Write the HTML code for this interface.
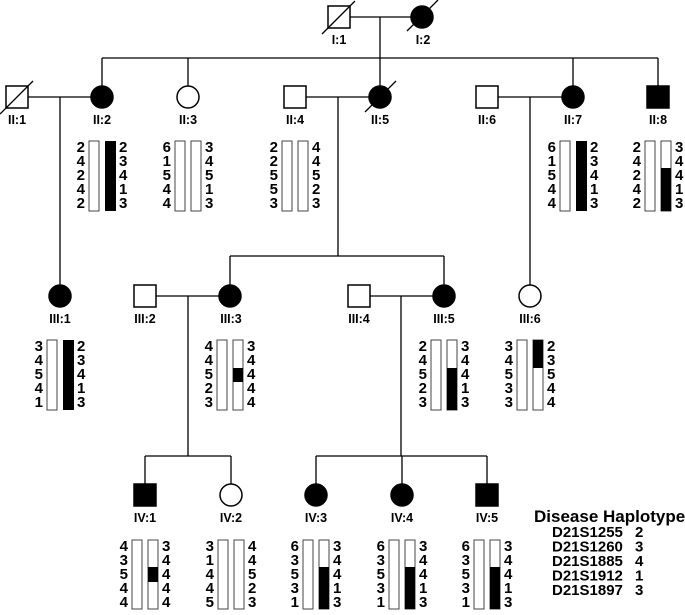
<!DOCTYPE html>
<html><head><meta charset="utf-8"><style>
html,body{margin:0;padding:0;background:#fff;}
svg{display:block;}
text{font-family:"Liberation Sans",Arial,sans-serif;font-weight:bold;fill:#000;}
.n{font-size:15px;}
.l{font-size:12.5px;}
.ln{stroke:#000;stroke-width:1.3;fill:none;}
.sym{stroke:#000;stroke-width:1.5;}
.bar{fill:#fff;stroke:#444;stroke-width:1;}
.blk{fill:#000;}
</style></head><body>
<svg width="685" height="615" viewBox="0 0 685 615" xmlns="http://www.w3.org/2000/svg">
<g class="ln">
<line x1="350" y1="17" x2="411" y2="17"/>
<line x1="380" y1="17" x2="380" y2="58"/>
<line x1="102" y1="58" x2="658" y2="58"/>
<line x1="102" y1="58" x2="102" y2="86"/>
<line x1="188" y1="58" x2="188" y2="86"/>
<line x1="380" y1="58" x2="380" y2="86"/>
<line x1="573" y1="58" x2="573" y2="86"/>
<line x1="658" y1="58" x2="658" y2="86"/>
<line x1="28" y1="97" x2="91" y2="97"/>
<line x1="60" y1="97" x2="60" y2="285"/>
<line x1="306" y1="97" x2="369" y2="97"/>
<line x1="338" y1="97" x2="338" y2="256"/>
<line x1="230" y1="256" x2="444" y2="256"/>
<line x1="230" y1="256" x2="230" y2="285"/>
<line x1="444" y1="256" x2="444" y2="285"/>
<line x1="498" y1="97" x2="562" y2="97"/>
<line x1="530" y1="97" x2="530" y2="285"/>
<line x1="156" y1="296" x2="219" y2="296"/>
<line x1="188" y1="296" x2="188" y2="456"/>
<line x1="145" y1="456" x2="231" y2="456"/>
<line x1="145" y1="456" x2="145" y2="484"/>
<line x1="231" y1="456" x2="231" y2="484"/>
<line x1="370" y1="296" x2="433" y2="296"/>
<line x1="401" y1="296" x2="401" y2="456"/>
<line x1="316" y1="456" x2="487" y2="456"/>
<line x1="316" y1="456" x2="316" y2="484"/>
<line x1="402" y1="456" x2="402" y2="484"/>
<line x1="487" y1="456" x2="487" y2="484"/>
</g>
<g class="sym">
<rect x="328" y="6" width="22" height="22" fill="#fff"/>
<circle cx="422" cy="17" r="11" fill="#000"/>
<rect x="6" y="86" width="22" height="22" fill="#fff"/>
<circle cx="102" cy="97" r="11" fill="#000"/>
<circle cx="188" cy="97" r="11" fill="#fff"/>
<rect x="284" y="86" width="22" height="22" fill="#fff"/>
<circle cx="380" cy="97" r="11" fill="#000"/>
<rect x="476" y="86" width="22" height="22" fill="#fff"/>
<circle cx="573" cy="97" r="11" fill="#000"/>
<rect x="647" y="86" width="22" height="22" fill="#000"/>
<circle cx="60" cy="296" r="11" fill="#000"/>
<rect x="134" y="285" width="22" height="22" fill="#fff"/>
<circle cx="230" cy="296" r="11" fill="#000"/>
<rect x="348" y="285" width="22" height="22" fill="#fff"/>
<circle cx="444" cy="296" r="11" fill="#000"/>
<circle cx="530" cy="296" r="11" fill="#fff"/>
<rect x="134" y="484" width="22" height="22" fill="#000"/>
<circle cx="231" cy="495" r="11" fill="#fff"/>
<circle cx="316" cy="495" r="11" fill="#000"/>
<circle cx="402" cy="495" r="11" fill="#000"/>
<rect x="476" y="484" width="22" height="22" fill="#000"/>
</g>
<g class="ln">
<line x1="322" y1="34" x2="355" y2="1"/>
<line x1="407" y1="31" x2="438" y2="0"/>
<line x1="0" y1="114" x2="33" y2="81"/>
<line x1="365" y1="112" x2="396" y2="81"/>
</g>
<g class="l" text-anchor="middle">
<text x="339" y="44">I:1</text>
<text x="423" y="44">I:2</text>
<text x="17" y="124">II:1</text>
<text x="102" y="124">II:2</text>
<text x="188" y="124">II:3</text>
<text x="295" y="124">II:4</text>
<text x="380" y="124">II:5</text>
<text x="487" y="124">II:6</text>
<text x="573" y="124">II:7</text>
<text x="658" y="124">II:8</text>
<text x="60" y="323">III:1</text>
<text x="145" y="323">III:2</text>
<text x="231" y="323">III:3</text>
<text x="359" y="323">III:4</text>
<text x="444" y="323">III:5</text>
<text x="530" y="323">III:6</text>
<text x="145" y="522">IV:1</text>
<text x="231" y="522">IV:2</text>
<text x="316" y="522">IV:3</text>
<text x="402" y="522">IV:4</text>
<text x="487" y="522">IV:5</text>
</g>
<g>
<rect class="bar" x="89" y="141" width="10" height="70"/><rect class="blk" x="105" y="141" width="11" height="70"/>
<rect class="bar" x="175" y="141" width="10" height="70"/><rect class="bar" x="191" y="141" width="10" height="70"/>
<rect class="bar" x="282" y="141" width="10" height="70"/><rect class="bar" x="298" y="141" width="10" height="70"/>
<rect class="bar" x="560" y="141" width="10" height="70"/><rect class="blk" x="576" y="141" width="11" height="70"/>
<rect class="bar" x="645" y="141" width="10" height="70"/><rect class="bar" x="661" y="141" width="10" height="70"/><rect class="blk" x="661" y="168" width="10" height="43"/>

<rect class="bar" x="47" y="340" width="10" height="70"/><rect class="blk" x="63" y="340" width="11" height="70"/>
<rect class="bar" x="217" y="340" width="10" height="70"/><rect class="bar" x="233" y="340" width="10" height="70"/><rect class="blk" x="233" y="368" width="10" height="14"/>
<rect class="bar" x="431" y="340" width="10" height="70"/><rect class="bar" x="447" y="340" width="10" height="70"/><rect class="blk" x="447" y="368" width="10" height="42"/>
<rect class="bar" x="517" y="340" width="10" height="70"/><rect class="bar" x="533" y="340" width="10" height="70"/><rect class="blk" x="533" y="340" width="10" height="28"/>

<rect class="bar" x="132" y="540" width="10" height="69"/><rect class="bar" x="148" y="540" width="10" height="69"/><rect class="blk" x="148" y="567" width="10" height="15"/>
<rect class="bar" x="218" y="540" width="10" height="69"/><rect class="bar" x="234" y="540" width="10" height="69"/>
<rect class="bar" x="303" y="540" width="10" height="69"/><rect class="bar" x="319" y="540" width="10" height="69"/><rect class="blk" x="319" y="567" width="10" height="42"/>
<rect class="bar" x="389" y="540" width="10" height="69"/><rect class="bar" x="405" y="540" width="10" height="69"/><rect class="blk" x="405" y="567" width="10" height="42"/>
<rect class="bar" x="474" y="540" width="10" height="69"/><rect class="bar" x="490" y="540" width="10" height="69"/><rect class="blk" x="490" y="567" width="10" height="42"/>
</g>
<g class="n">
<text text-anchor="end" y="152"><tspan x="85">2</tspan><tspan x="85" dy="14">4</tspan><tspan x="85" dy="14">2</tspan><tspan x="85" dy="14">4</tspan><tspan x="85" dy="14">2</tspan></text>
<text y="152"><tspan x="119">2</tspan><tspan x="119" dy="14">3</tspan><tspan x="119" dy="14">4</tspan><tspan x="119" dy="14">1</tspan><tspan x="119" dy="14">3</tspan></text>
<text text-anchor="end" y="152"><tspan x="171">6</tspan><tspan x="171" dy="14">1</tspan><tspan x="171" dy="14">5</tspan><tspan x="171" dy="14">4</tspan><tspan x="171" dy="14">4</tspan></text>
<text y="152"><tspan x="205">3</tspan><tspan x="205" dy="14">4</tspan><tspan x="205" dy="14">5</tspan><tspan x="205" dy="14">1</tspan><tspan x="205" dy="14">3</tspan></text>
<text text-anchor="end" y="152"><tspan x="278">2</tspan><tspan x="278" dy="14">2</tspan><tspan x="278" dy="14">5</tspan><tspan x="278" dy="14">5</tspan><tspan x="278" dy="14">3</tspan></text>
<text y="152"><tspan x="312">4</tspan><tspan x="312" dy="14">4</tspan><tspan x="312" dy="14">5</tspan><tspan x="312" dy="14">2</tspan><tspan x="312" dy="14">3</tspan></text>
<text text-anchor="end" y="152"><tspan x="556">6</tspan><tspan x="556" dy="14">1</tspan><tspan x="556" dy="14">5</tspan><tspan x="556" dy="14">4</tspan><tspan x="556" dy="14">4</tspan></text>
<text y="152"><tspan x="590">2</tspan><tspan x="590" dy="14">3</tspan><tspan x="590" dy="14">4</tspan><tspan x="590" dy="14">1</tspan><tspan x="590" dy="14">3</tspan></text>
<text text-anchor="end" y="152"><tspan x="641">2</tspan><tspan x="641" dy="14">4</tspan><tspan x="641" dy="14">2</tspan><tspan x="641" dy="14">4</tspan><tspan x="641" dy="14">2</tspan></text>
<text y="152"><tspan x="675">3</tspan><tspan x="675" dy="14">4</tspan><tspan x="675" dy="14">4</tspan><tspan x="675" dy="14">1</tspan><tspan x="675" dy="14">3</tspan></text>

<text text-anchor="end" y="351"><tspan x="43">3</tspan><tspan x="43" dy="14">4</tspan><tspan x="43" dy="14">5</tspan><tspan x="43" dy="14">4</tspan><tspan x="43" dy="14">1</tspan></text>
<text y="351"><tspan x="77">2</tspan><tspan x="77" dy="14">3</tspan><tspan x="77" dy="14">4</tspan><tspan x="77" dy="14">1</tspan><tspan x="77" dy="14">3</tspan></text>
<text text-anchor="end" y="351"><tspan x="213">4</tspan><tspan x="213" dy="14">4</tspan><tspan x="213" dy="14">5</tspan><tspan x="213" dy="14">2</tspan><tspan x="213" dy="14">3</tspan></text>
<text y="351"><tspan x="247">3</tspan><tspan x="247" dy="14">4</tspan><tspan x="247" dy="14">4</tspan><tspan x="247" dy="14">4</tspan><tspan x="247" dy="14">4</tspan></text>
<text text-anchor="end" y="351"><tspan x="427">2</tspan><tspan x="427" dy="14">4</tspan><tspan x="427" dy="14">5</tspan><tspan x="427" dy="14">2</tspan><tspan x="427" dy="14">3</tspan></text>
<text y="351"><tspan x="461">3</tspan><tspan x="461" dy="14">4</tspan><tspan x="461" dy="14">4</tspan><tspan x="461" dy="14">1</tspan><tspan x="461" dy="14">3</tspan></text>
<text text-anchor="end" y="351"><tspan x="513">3</tspan><tspan x="513" dy="14">4</tspan><tspan x="513" dy="14">5</tspan><tspan x="513" dy="14">3</tspan><tspan x="513" dy="14">3</tspan></text>
<text y="351"><tspan x="547">2</tspan><tspan x="547" dy="14">3</tspan><tspan x="547" dy="14">5</tspan><tspan x="547" dy="14">4</tspan><tspan x="547" dy="14">4</tspan></text>

<text text-anchor="end" y="551"><tspan x="128">4</tspan><tspan x="128" dy="14">3</tspan><tspan x="128" dy="14">5</tspan><tspan x="128" dy="14">4</tspan><tspan x="128" dy="14">4</tspan></text>
<text y="551"><tspan x="162">3</tspan><tspan x="162" dy="14">4</tspan><tspan x="162" dy="14">4</tspan><tspan x="162" dy="14">4</tspan><tspan x="162" dy="14">4</tspan></text>
<text text-anchor="end" y="551"><tspan x="214">3</tspan><tspan x="214" dy="14">1</tspan><tspan x="214" dy="14">4</tspan><tspan x="214" dy="14">4</tspan><tspan x="214" dy="14">5</tspan></text>
<text y="551"><tspan x="248">4</tspan><tspan x="248" dy="14">4</tspan><tspan x="248" dy="14">5</tspan><tspan x="248" dy="14">2</tspan><tspan x="248" dy="14">3</tspan></text>
<text text-anchor="end" y="551"><tspan x="299">6</tspan><tspan x="299" dy="14">3</tspan><tspan x="299" dy="14">5</tspan><tspan x="299" dy="14">3</tspan><tspan x="299" dy="14">1</tspan></text>
<text y="551"><tspan x="333">3</tspan><tspan x="333" dy="14">4</tspan><tspan x="333" dy="14">4</tspan><tspan x="333" dy="14">1</tspan><tspan x="333" dy="14">3</tspan></text>
<text text-anchor="end" y="551"><tspan x="385">6</tspan><tspan x="385" dy="14">3</tspan><tspan x="385" dy="14">5</tspan><tspan x="385" dy="14">3</tspan><tspan x="385" dy="14">1</tspan></text>
<text y="551"><tspan x="419">3</tspan><tspan x="419" dy="14">4</tspan><tspan x="419" dy="14">4</tspan><tspan x="419" dy="14">1</tspan><tspan x="419" dy="14">3</tspan></text>
<text text-anchor="end" y="551"><tspan x="470">6</tspan><tspan x="470" dy="14">3</tspan><tspan x="470" dy="14">5</tspan><tspan x="470" dy="14">3</tspan><tspan x="470" dy="14">1</tspan></text>
<text y="551"><tspan x="504">3</tspan><tspan x="504" dy="14">4</tspan><tspan x="504" dy="14">4</tspan><tspan x="504" dy="14">1</tspan><tspan x="504" dy="14">3</tspan></text>
</g>
<g>
<text x="534" y="522" style="font-size:17px">Disease Haplotype</text>
<g style="font-size:15px">
<text x="552" y="537">D21S1255</text><text x="635" y="537">2</text>
<text x="552" y="551.5">D21S1260</text><text x="635" y="551.5">3</text>
<text x="552" y="566">D21S1885</text><text x="635" y="566">4</text>
<text x="552" y="580.5">D21S1912</text><text x="635" y="580.5">1</text>
<text x="552" y="595">D21S1897</text><text x="635" y="595">3</text>
</g>
</g>
</svg>
</body></html>
